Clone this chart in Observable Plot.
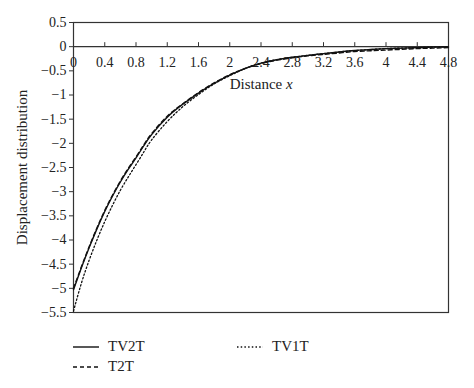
<!DOCTYPE html>
<html>
<head>
<meta charset="utf-8">
<script src="https://cdn.jsdelivr.net/npm/d3@7"></script>
<script src="https://cdn.jsdelivr.net/npm/@observablehq/plot@0.6"></script>
<style>
  html, body { margin: 0; padding: 0; background: #fff; }
  #wrap { width: 474px; position: relative; font-family: "Liberation Serif", "DejaVu Serif", serif; }
  #legend { position: relative; width: 474px; height: 63px; font-size: 15px; color: #222; }
  .item { position: absolute; display: flex; align-items: center; }
  .item svg { margin-right: 9px; }
</style>
</head>
<body>
<div id="wrap"></div>
<script>
// ---- data ----
const xTicks = [0, 0.4, 0.8, 1.2, 1.6, 2, 2.4, 2.8, 3.2, 3.6, 4, 4.4, 4.8];
const yTicks = [0.5, 0, -0.5, -1, -1.5, -2, -2.5, -3, -3.5, -4, -4.5, -5, -5.5];

const xs = [0, 0.1, 0.2, 0.3, 0.4, 0.5, 0.6, 0.7, 0.8, 0.9, 1.0, 1.2, 1.4, 1.6, 1.8, 2.0, 2.2, 2.4, 2.6, 2.8, 3.0, 3.2, 3.4, 3.6, 3.8, 4.0, 4.2, 4.4, 4.6, 4.8];
const tv2tY = [-5.03, -4.58, -4.16, -3.77, -3.41, -3.09, -2.80, -2.54, -2.30, -2.05, -1.82, -1.46, -1.19, -0.96, -0.76, -0.59, -0.45, -0.34, -0.27, -0.22, -0.18, -0.145, -0.11, -0.08, -0.06, -0.04, -0.03, -0.02, -0.01, -0.005];
const t2tY  = [-5.00, -4.56, -4.14, -3.75, -3.39, -3.07, -2.78, -2.52, -2.28, -2.03, -1.80, -1.44, -1.18, -0.95, -0.75, -0.58, -0.45, -0.35, -0.28, -0.23, -0.19, -0.16, -0.13, -0.10, -0.085, -0.07, -0.055, -0.04, -0.03, -0.02];
const tv1tY = [-5.47, -4.90, -4.42, -4.00, -3.62, -3.28, -2.97, -2.70, -2.44, -2.18, -1.93, -1.55, -1.24, -0.99, -0.77, -0.60, -0.45, -0.34, -0.27, -0.22, -0.18, -0.145, -0.11, -0.08, -0.06, -0.04, -0.03, -0.02, -0.01, -0.005];

const seriesNames = ["TV2T", "T2T", "TV1T"];
const seriesDash = ["none", "4,3", "1.5,2.2"];

const xLabel = "Distance x";
const yLabel = "Displacement distribution";
const xLabelPos = {x: 2.0, y: -0.77};

// ---- build ----
const toRows = (ys) => xs.map((x, i) => ({x, y: ys[i]}));
const series = [toRows(tv2tY), toRows(t2tY), toRows(tv1tY)];
const fmt = d => d3.format("~g")(d).replace("-", "\u2212");
const axisColor = "#333";

const chart = Plot.plot({
  width: 474,
  height: 325,
  marginLeft: 73,
  marginRight: 26,
  marginTop: 22,
  marginBottom: 13,
  x: {domain: [0, 4.8], axis: null},
  y: {domain: [-5.5, 0.5]},
  style: {fontFamily: "'Liberation Serif', 'DejaVu Serif', serif", fontSize: "14px", color: "#222", background: "#fff"},
  marks: [
    Plot.frame({stroke: axisColor, strokeWidth: 1.2}),
    Plot.ruleY([0], {stroke: axisColor, strokeWidth: 1.2}),
    Plot.ruleX(xTicks, {x: d => d, y1: 0, y2: 0, insetTop: -4, stroke: axisColor}),
    Plot.text(xTicks, {x: d => d, y: 0, dy: 16, text: d => fmt(d), fontSize: 14, fill: "#222"}),
    Plot.axisY({
      ticks: yTicks, tickSize: 4, tickPadding: 3, tickFormat: fmt, stroke: axisColor,
      label: yLabel, labelAnchor: "center", labelArrow: "none", labelOffset: 57, fontSize: 14
    }),
    Plot.text([xLabelPos], {x: "x", y: "y", text: () => xLabel, textAnchor: "start", fontSize: 15, fill: "#222"}),
    Plot.line(series[2], {x: "x", y: "y", curve: "natural", stroke: "#111", strokeWidth: 1.3, strokeDasharray: seriesDash[2]}),
    Plot.line(series[1], {x: "x", y: "y", curve: "natural", stroke: "#111", strokeWidth: 1.4, strokeDasharray: seriesDash[1]}),
    Plot.line(series[0], {x: "x", y: "y", curve: "natural", stroke: "#111", strokeWidth: 1.4})
  ]
});

// italic "x" in the x label
d3.select(chart).selectAll("text").each(function() {
  if (this.textContent === xLabel) {
    const t = d3.select(this);
    t.text(null);
    t.append("tspan").text("Distance ");
    t.append("tspan").attr("font-style", "italic").text("x");
  }
});
d3.select(chart).selectAll("text").filter(function() { return this.textContent === yLabel; }).attr("font-size", 15);

const wrap = document.getElementById("wrap");
wrap.appendChild(chart);

// legend
const legend = document.createElement("div");
legend.id = "legend";
const legendPos = [{left: 73, top: 13}, {left: 73, top: 33}, {left: 237, top: 13}];
seriesNames.forEach((name, i) => {
  const it = document.createElement("div");
  it.className = "item";
  it.style.left = legendPos[i].left + "px";
  it.style.top = legendPos[i].top + "px";
  it.innerHTML = `<svg width="26" height="10"><line x1="0" y1="5" x2="26" y2="5" stroke="#111" stroke-width="1.4" ${seriesDash[i] === "none" ? "" : `stroke-dasharray="${seriesDash[i]}"`}/></svg><span>${name}</span>`;
  legend.appendChild(it);
});
wrap.appendChild(legend);
</script>
</body>
</html>
